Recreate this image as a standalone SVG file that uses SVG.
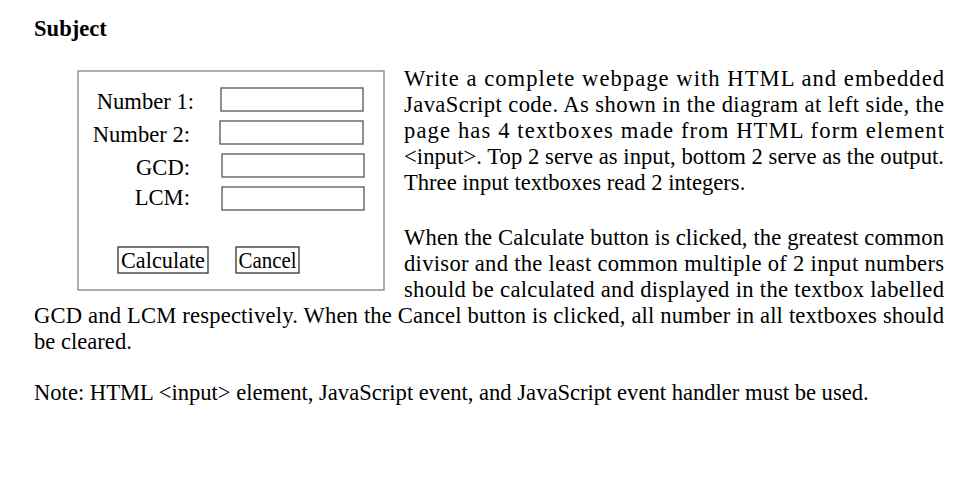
<svg xmlns="http://www.w3.org/2000/svg" width="968" height="488" viewBox="0 0 968 488">
<style>
text{font-family:"Liberation Serif","Times New Roman",serif;font-size:22.6px;fill:#000}
.b{fill:#fff;stroke:#555;stroke-width:1.3}
.btn{fill:#fff;stroke:#333;stroke-width:1.3}
</style>
<rect width="968" height="488" fill="#fff"/>
<text x="34" y="36" font-weight="bold">Subject</text>
<g id="form">
<rect x="78" y="71" width="306" height="219" fill="#fff" stroke="#777" stroke-width="1.2"/>
<text x="194" y="109" text-anchor="end">Number 1:</text>
<text x="190" y="142" text-anchor="end">Number 2:</text>
<text x="190" y="175" text-anchor="end">GCD:</text>
<text x="190" y="205" text-anchor="end">LCM:</text>
<rect class="b" x="221" y="88" width="142" height="23"/>
<rect class="b" x="220" y="121" width="143" height="23"/>
<rect class="b" x="222" y="154" width="142" height="23"/>
<rect class="b" x="222" y="187" width="142" height="23"/>
<g id="calc"><rect class="btn" x="118" y="247" width="90" height="26"/><text x="163" y="268" text-anchor="middle" textLength="84" lengthAdjust="spacingAndGlyphs">Calculate</text></g>
<g id="cancel"><rect class="btn" x="236" y="247" width="63" height="26"/><text x="267.5" y="268" text-anchor="middle" textLength="58" lengthAdjust="spacingAndGlyphs">Cancel</text></g>
</g>
<g id="body">
<text x="404" y="86" textLength="540" lengthAdjust="spacing">Write a complete webpage with HTML and embedded</text>
<text x="404" y="112" textLength="540" lengthAdjust="spacing">JavaScript code. As shown in the diagram at left side, the</text>
<text x="404" y="138" textLength="540" lengthAdjust="spacing">page has 4 textboxes made from HTML form element</text>
<text x="404" y="164" textLength="540" lengthAdjust="spacing">&lt;input&gt;. Top 2 serve as input, bottom 2 serve as the output.</text>
<text x="404" y="190">Three input textboxes read 2 integers.</text>
<text x="404" y="245" textLength="540" lengthAdjust="spacing">When the Calculate button is clicked, the greatest common</text>
<text x="404" y="271" textLength="540" lengthAdjust="spacing">divisor and the least common multiple of 2 input numbers</text>
<text x="404" y="297" textLength="540" lengthAdjust="spacing">should be calculated and displayed in the textbox labelled</text>
<text x="34" y="323" textLength="910" lengthAdjust="spacing">GCD and LCM respectively. When the Cancel button is clicked, all number in all textboxes should</text>
<text x="34" y="349">be cleared.</text>
<text x="34" y="400">Note: HTML &lt;input&gt; element, JavaScript event, and JavaScript event handler must be used.</text>
</g>
</svg>
